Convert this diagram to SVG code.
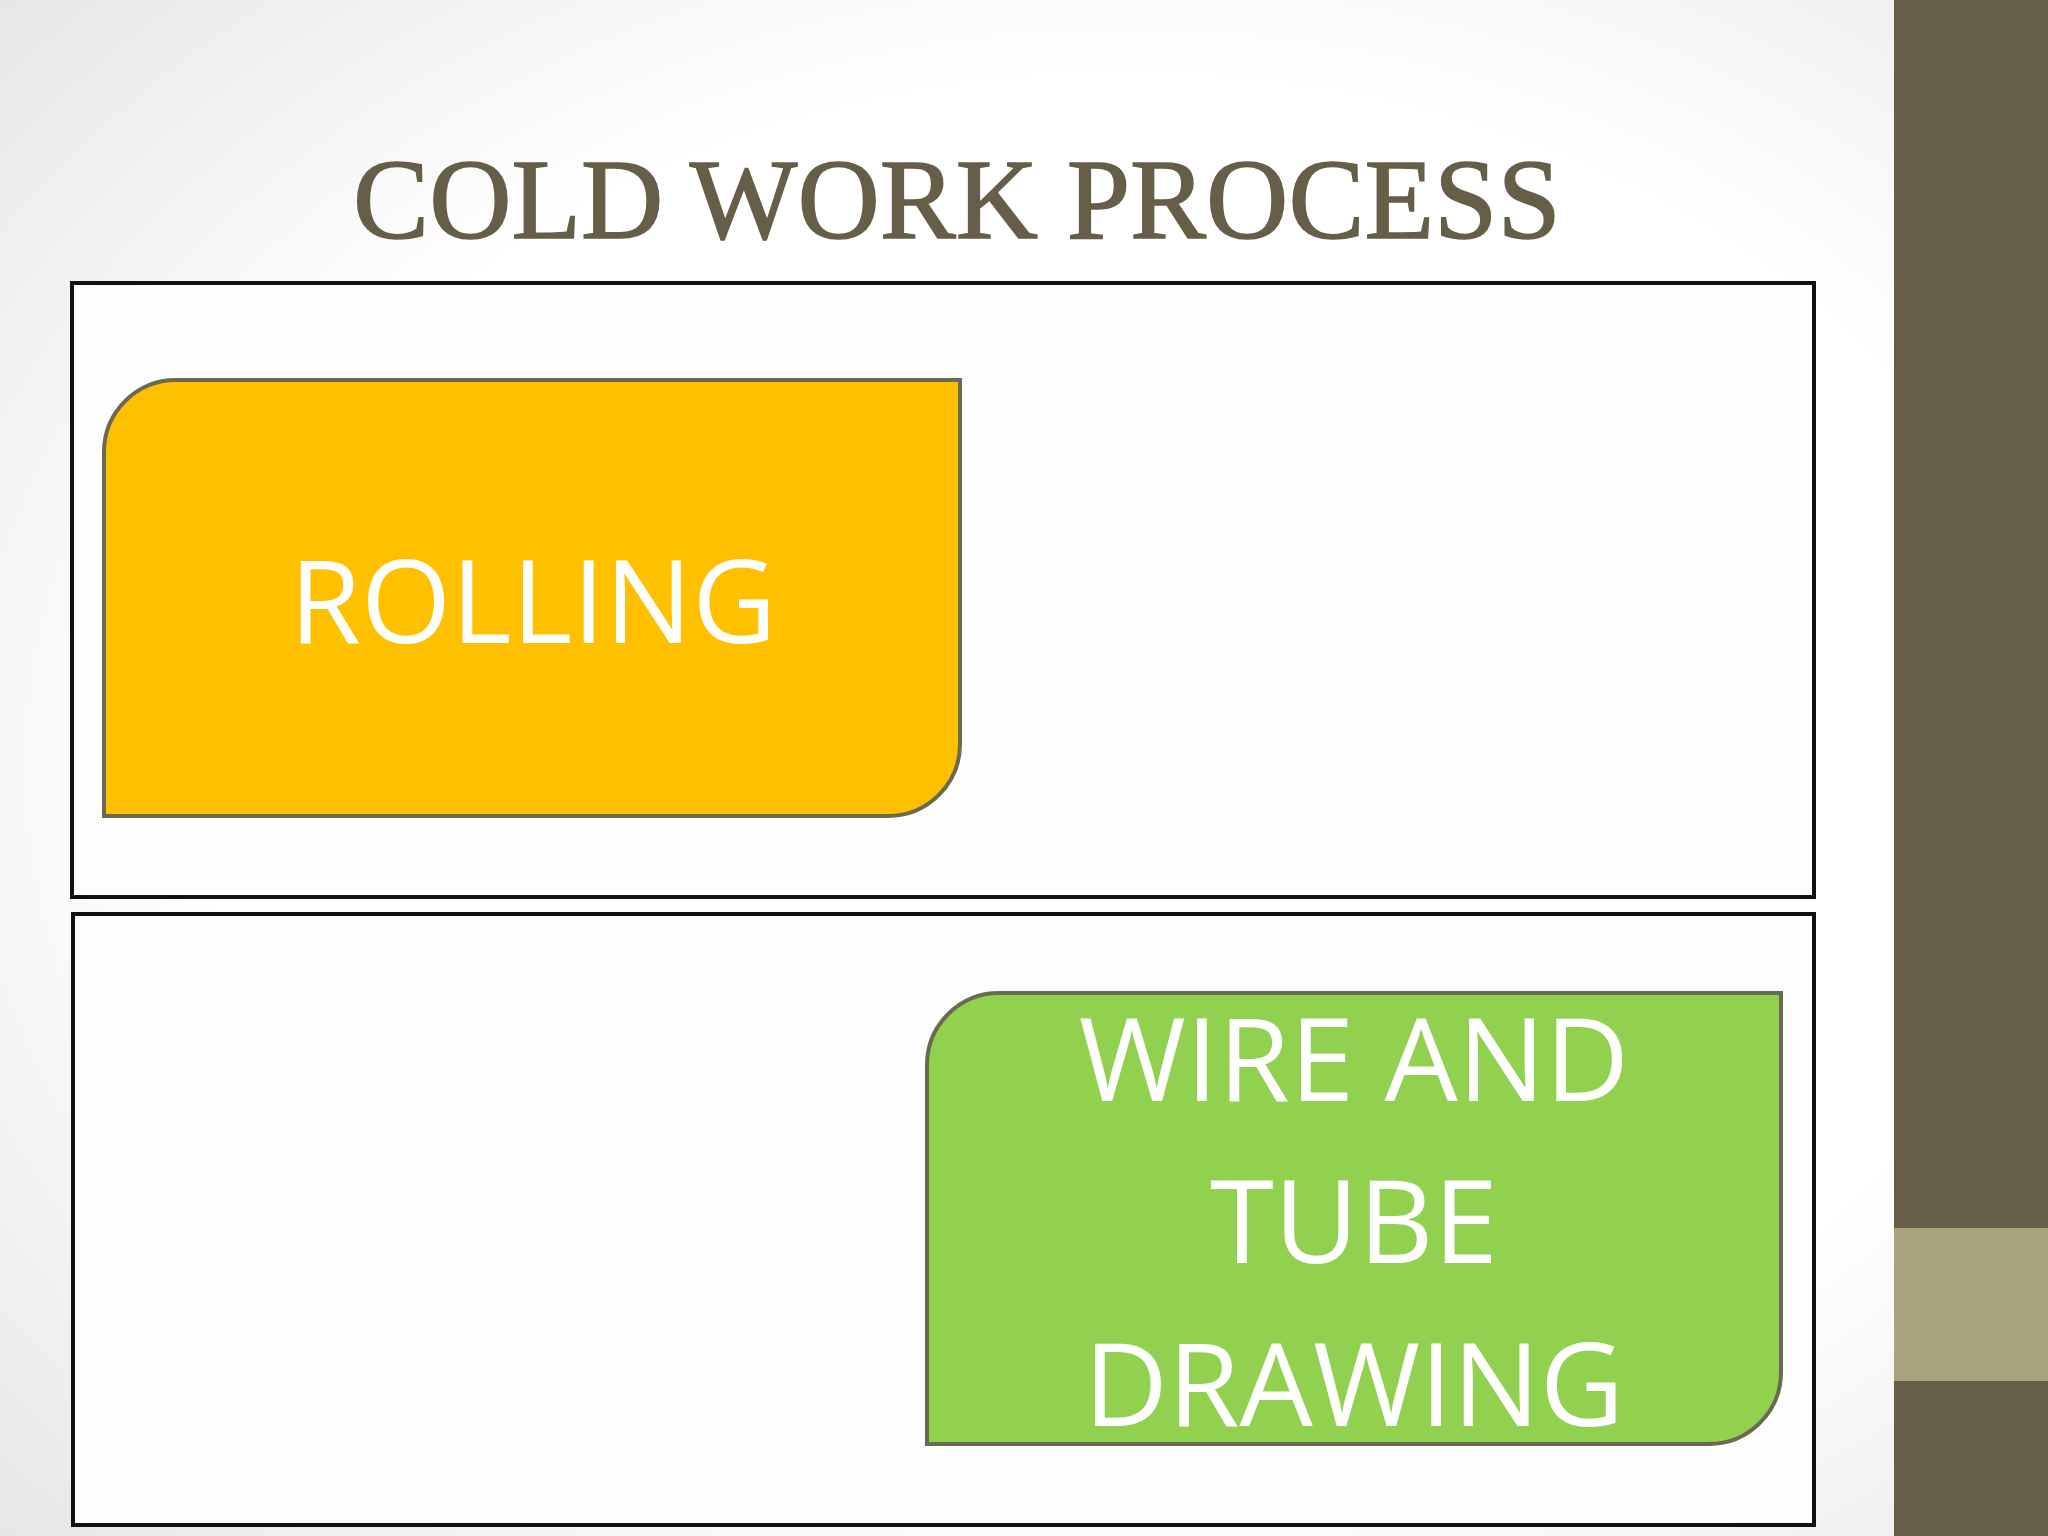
<svg xmlns="http://www.w3.org/2000/svg" width="2048" height="1536" viewBox="0 0 2048 1536">
<defs>
<radialGradient id="bg" cx="0.55" cy="0.5" r="0.75">
<stop offset="0.6" stop-color="#ffffff"/><stop offset="1" stop-color="#e6e6e6"/>
</radialGradient>
</defs>
<style>
.frame{fill:#fdfdfd;stroke:#111;stroke-width:4}
.node{stroke:#6b6a4f;stroke-width:4}
.lbl{font-family:"Open Sans","Liberation Sans",sans-serif;font-size:116px;fill:#fff;text-anchor:middle}
</style>
<rect width="2048" height="1536" fill="url(#bg)"/>
<rect x="1894" y="0" width="154" height="1536" fill="#665E48"/>
<rect x="1894" y="1228" width="154" height="153" fill="#A9A47C"/>
<text x="957" y="238" font-family="Liberation Serif,serif" font-size="114" fill="#665E48" text-anchor="middle" stroke="#665E48" stroke-width="1.5">COLD WORK PROCESS</text>
<rect class="frame" x="72" y="283" width="1742" height="614"/>
<rect class="frame" x="73" y="914" width="1741" height="611"/>
<g id="rolling">
<path class="node" fill="#FFC000" d="M176,380 H960 V744 A72,72 0 0 1 888,816 H104 V452 A72,72 0 0 1 176,380 Z"/>
<text class="lbl" x="533" y="643">ROLLING</text>
</g>
<g id="wire">
<path class="node" fill="#92D050" d="M999,993 H1781 V1372 A72,72 0 0 1 1709,1444 H927 V1065 A72,72 0 0 1 999,993 Z"/>
<text class="lbl" x="1354" y="1101">WIRE AND</text>
<text class="lbl" x="1354" y="1263">TUBE</text>
<text class="lbl" x="1354" y="1426">DRAWING</text>
</g>
<g id="connectors"/>
</svg>
